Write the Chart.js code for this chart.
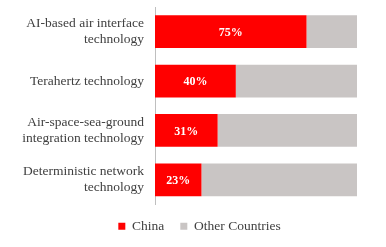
<!DOCTYPE html>
<html><head><meta charset="utf-8">
<script src="https://cdn.jsdelivr.net/npm/chart.js@4/dist/chart.umd.min.js"></script>
<style>html,body{margin:0;padding:0;background:#fff}#wrap{width:386px;height:247px}</style>
</head><body><div id="wrap"><canvas id="c" width="386" height="247"></canvas></div>
<script>
const categories = [
  ["AI-based air interface","technology"],
  ["Terahertz technology"],
  ["Air-space-sea-ground","integration technology"],
  ["Deterministic network","technology"]
];
const china = [75, 40, 31, 23];
const others = [25, 60, 69, 77];
const seriesNames = ["China", "Other Countries"];

const FONT = "'Liberation Serif', 'DejaVu Serif', serif";

const labelPlugin = {
  id: 'barLabels',
  afterLayout(chart) {
    const lg = chart.legend;
    if (lg) { lg.left += 21; lg.right += 21; lg.top -= 1; lg.bottom -= 1; }
  },
  afterDatasetsDraw(chart) {
    const ctx = chart.ctx;
    const meta = chart.getDatasetMeta(0);
    ctx.save();
    ctx.fillStyle = '#ffffff';
    ctx.font = "bold 12px " + FONT;
    ctx.textAlign = 'center';
    ctx.textBaseline = 'middle';
    meta.data.forEach((bar, i) => {
      const cx = (bar.base + bar.x) / 2;
      ctx.fillText(china[i] + '%', cx, bar.y + 1);
    });
    ctx.restore();
  }
};

new Chart(document.getElementById('c'), {
  type: 'bar',
  data: {
    labels: categories,
    datasets: [
      { label: seriesNames[0], data: china, backgroundColor: '#FF0000', barPercentage: 0.664, categoryPercentage: 1 },
      { label: seriesNames[1], data: others, backgroundColor: '#C9C5C4', barPercentage: 0.664, categoryPercentage: 1 }
    ]
  },
  options: {
    indexAxis: 'y',
    responsive: false,
    animation: false,
    devicePixelRatio: 1,
    layout: { padding: { top: 7, right: 29, left: 0, bottom: 3 } },
    scales: {
      x: { stacked: true, min: 0, max: 100, display: false },
      y: {
        stacked: true,
        grid: { display: false, drawTicks: false },
        border: { display: true, color: '#BFBFBF', width: 1 },
        ticks: { color: '#404040', padding: 11, font: { family: FONT, size: 13.5, lineHeight: 1.2 } },
        afterFit(scale) { scale.width = 155; scale.paddingTop = 0; scale.paddingBottom = 0; }
      }
    },
    plugins: {
      legend: {
        position: 'bottom',
        labels: { boxWidth: 7, boxHeight: 7, padding: 16, color: '#404040', font: { family: FONT, size: 13.5 } }
      },
      tooltip: { enabled: false }
    }
  },
  plugins: [labelPlugin]
});
</script></body></html>
